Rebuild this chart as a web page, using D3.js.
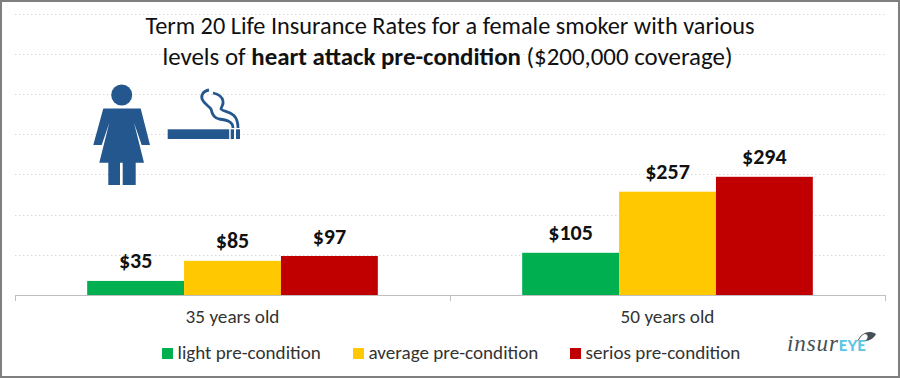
<!DOCTYPE html>
<html><head><meta charset="utf-8">
<script src="https://cdnjs.cloudflare.com/ajax/libs/d3/7.8.5/d3.min.js"></script>
<style>html,body{margin:0;padding:0;background:#fff}svg{display:block}text{font-family:Carlito,Lato,"Open Sans",sans-serif}</style>
</head><body><svg id="c" width="900" height="378"></svg>
<script>
const categories = ["35 years old", "50 years old"];
const seriesNames = ["light pre-condition", "average pre-condition", "serios pre-condition"];
const light = [35, 105];
const average = [85, 257];
const serious = [97, 294];
const valueLabels = [["$35","$105"],["$85","$257"],["$97","$294"]];
const colors = ["#00b050", "#ffc800", "#c00000"];
const gridTicks = [100, 200, 300, 400, 500, 600, 700];

const svg = d3.select("#c");
const W = 900, H = 378;
const m = {l:15, r:15, t:13.6, b:83};
const x0 = d3.scaleBand().domain(categories).range([m.l, W-m.r]);
const x1 = d3.scaleBand().domain(d3.range(3)).range([0, x0.bandwidth()]).paddingInner(0).paddingOuter(0.745);
const y = d3.scaleLinear().domain([0,700]).range([H-m.b, m.t]);

svg.append("rect").attr("x",1).attr("y",1).attr("width",W-2).attr("height",H-2).attr("fill","#fff").attr("stroke","#7f7f7f").attr("stroke-width",2);

svg.append("g").selectAll("line").data(gridTicks).join("line")
  .attr("x1",m.l).attr("x2",W-m.r).attr("y1",d=>Math.round(y(d))+.5).attr("y2",d=>Math.round(y(d))+.5)
  .attr("stroke","#d9d9d9").attr("stroke-dasharray","1.5 2.5");

const seriesVals = [light, average, serious];
seriesVals.forEach((vals,s)=>{
  const g = svg.append("g");
  g.selectAll("rect").data(vals).join("rect")
    .attr("x",(d,i)=>x0(categories[i])+x1(s)).attr("width",x1.bandwidth())
    .attr("y",d=>y(d)).attr("height",d=>y(0)-y(d)).attr("fill",colors[s]);
  g.selectAll("text").data(vals).join("text")
    .attr("x",(d,i)=>x0(categories[i])+x1(s)+x1.bandwidth()/2).attr("y",d=>y(d)-12.5)
    .attr("text-anchor","middle").attr("font-size",22).attr("font-weight",700).attr("fill","#111")
    .text((d,i)=>valueLabels[s][i]);
});

const axis = svg.append("g").attr("transform",`translate(0,${y(0)})`)
  .call(d3.axisBottom(x0).tickSize(0).tickPadding(14));
axis.select(".domain").remove();
axis.selectAll("text").attr("font-size",19.2).attr("fill","#333").attr("font-family","Carlito,Lato,sans-serif");
svg.append("line").attr("x1",m.l).attr("x2",W-m.r).attr("y1",y(0)+.5).attr("y2",y(0)+.5).attr("stroke","#bfbfbf").attr("stroke-width",1.2);
[m.l, x0(categories[1]), W-m.r].forEach(px=>{
  svg.append("line").attr("x1",px+.5).attr("x2",px+.5).attr("y1",y(0)).attr("y2",y(0)+6).attr("stroke","#bfbfbf");
});

const title = svg.append("text").attr("text-anchor","middle").attr("fill","#111");
title.append("tspan").attr("x",450).attr("y",34).attr("font-size",24.3).text("Term 20 Life Insurance Rates for a female smoker with various");
const t2 = title.append("tspan").attr("x",447.5).attr("y",65).attr("font-size",24.9);
t2.append("tspan").text("levels of ");
t2.append("tspan").attr("font-weight",700).text("heart attack pre-condition");
t2.append("tspan").text(" ($200,000 coverage)");

const legX = [162, 353, 570];
seriesNames.forEach((n,i)=>{
  svg.append("rect").attr("x",legX[i]).attr("y",348).attr("width",11).attr("height",11).attr("fill",colors[i]);
  svg.append("text").attr("x",legX[i]+15.5).attr("y",359).attr("font-size",19.1).attr("fill","#333").text(n);
});

const blue="#25578f";
const icons = svg.append("g").attr("fill",blue);
icons.append("circle").attr("cx",121.7).attr("cy",95).attr("r",10.5);
icons.append("path").attr("d","M103.3 108.5H140.7L150 145H141.7L134 122.7L144 162.7H135.7V185H122.7V162.7H120V185H108.3V162.7H99.3L109.3 122.7L101.7 145H93.3Z");
icons.append("rect").attr("x",167.7).attr("y",129.3).attr("width",61.5).attr("height",9.7);
icons.append("rect").attr("x",230.7).attr("y",129.3).attr("width",3.3).attr("height",9.7);
icons.append("rect").attr("x",236).attr("y",129.3).attr("width",4).attr("height",9.7);
icons.append("path").attr("fill","none").attr("stroke",blue).attr("stroke-width",2.8)
  .attr("d","M209 90C203 91 201 95 202 99C204 104 209 106 211 109C212 114 214 118 219 119C226 120 233 121 233 128");
icons.append("path").attr("fill","none").attr("stroke",blue).attr("stroke-width",2.8)
  .attr("d","M213 93C218 94 222 96 223 101C224 105 221 107 221 109C224 113 238 110 238 128");

const logo = svg.append("text").attr("x",787).attr("y",351);
logo.append("tspan").attr("font-family","'Liberation Serif',serif").attr("font-style","italic").attr("font-size",23).attr("fill","#454f55").attr("letter-spacing",.9).text("insur");
logo.append("tspan").attr("font-family","Lato,sans-serif").attr("font-weight",900).attr("font-size",15).attr("fill","#5bc5e6").text("EYE");
svg.append("path").attr("d","M857 342C860 334 868 329 876 334C874 338 870 341 865 341C869 338 868 334 865 334C861 335 860 339 857 342Z").attr("fill","#454f55");
</script></body></html>
